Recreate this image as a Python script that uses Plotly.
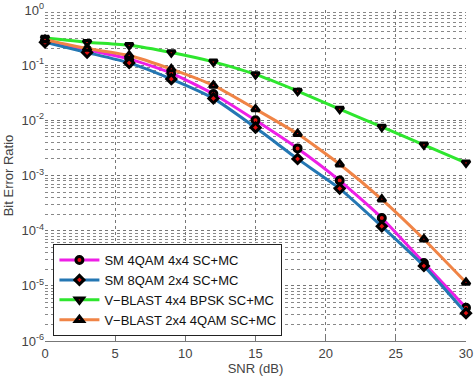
import plotly.graph_objects as go

snr = [0, 3, 6, 9, 12, 15, 18, 21, 24, 27, 30]
sm_4qam = [0.28, 0.19, 0.13, 0.072, 0.030, 0.010, 0.0031, 0.00081, 0.00017, 2.6e-5, 4.0e-6]
sm_8qam = [0.26, 0.17, 0.11, 0.056, 0.025, 0.0074, 0.0020, 0.00058, 0.00012, 2.3e-5, 3.2e-6]
vb_bpsk = [0.31, 0.26, 0.23, 0.17, 0.115, 0.068, 0.034, 0.016, 0.0076, 0.0036, 0.0017]
vb_4qam = [0.29, 0.20, 0.15, 0.085, 0.043, 0.016, 0.0057, 0.0016, 0.00037, 7.0e-5, 1.15e-5]

names = ["SM 4QAM 4x4 SC+MC", "SM 8QAM 2x4 SC+MC",
         "V\u2212BLAST 4x4 BPSK SC+MC", "V\u2212BLAST 2x4 4QAM SC+MC"]
series = [sm_4qam, sm_8qam, vb_bpsk, vb_4qam]
colors = ["#ee1ee6", "#2477b3", "#2ee62e", "#f08446"]
symbols = ["circle", "diamond", "triangle-down", "triangle-up"]

ytickvals = [1, 0.1, 0.01, 1e-3, 1e-4, 1e-5, 1e-6]
yticktext = ["10<sup>0</sup>", "10<sup>-1</sup>", "10<sup>-2</sup>", "10<sup>-3</sup>",
             "10<sup>-4</sup>", "10<sup>-5</sup>", "10<sup>-6</sup>"]
xtickvals = [0, 5, 10, 15, 20, 25, 30]

fig = go.Figure()
for name, ys, c, s in zip(names, series, colors, symbols):
    fig.add_trace(go.Scatter(
        x=snr, y=ys, name=name, mode="lines+markers",
        line=dict(color=c, width=3, shape="spline", smoothing=0.5),
        marker=dict(symbol=s, size=7, color="#e01010", line=dict(color="black", width=3)),
        cliponaxis=False,
    ))

fig.update_layout(
    width=474, height=379,
    margin=dict(l=45, r=8, t=10, b=38, autoexpand=False),
    paper_bgcolor="white", plot_bgcolor="white",
    font=dict(family="Liberation Sans, Arial", size=13, color="#444"),
    showlegend=True,
    legend=dict(x=0.02, y=0.015, xanchor="left", yanchor="bottom",
                bgcolor="white", bordercolor="#222", borderwidth=1,
                font=dict(size=13, color="#111"), itemwidth=40,
                tracegroupgap=0),
    xaxis=dict(range=[0, 30], tickvals=xtickvals, showgrid=True,
               gridcolor="#777", griddash="dot", gridwidth=1,
               showline=True, linecolor="#777", linewidth=1,
               ticks="inside", ticklen=4, tickcolor="#777",
               zeroline=False, automargin=False,
               title=dict(text="SNR (dB)", standoff=2, font=dict(size=13)),
               tickfont=dict(size=13)),
    yaxis=dict(type="log", range=[-6, 0.0005], tickvals=ytickvals, ticktext=yticktext,
               showgrid=True, gridcolor="#777", griddash="dot", gridwidth=1,
               minor=dict(dtick="D1", showgrid=True, gridcolor="#888", griddash="dot",
                          gridwidth=1),
               showline=False, zeroline=False, automargin=False,
               ticks="", tickfont=dict(size=13), ticklabeloverflow="allow",
               title=dict(text="Bit Error Ratio", standoff=4, font=dict(size=13))),
)

fig.write_html("out.html", config={"displayModeBar": False},
               post_script="document.body.style.margin='0px';")
